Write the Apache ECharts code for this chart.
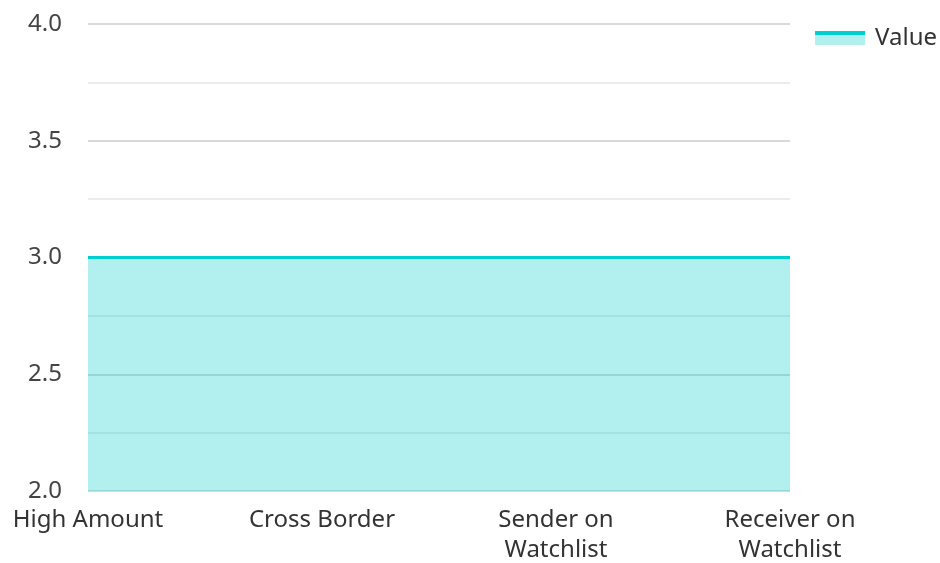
<!DOCTYPE html>
<html>
<head>
<meta charset="utf-8">
<style>
  html, body { margin: 0; padding: 0; background: #fff; }
  #chart { width: 940px; height: 563px; }
</style>
<script src="https://cdn.jsdelivr.net/npm/echarts@6/dist/echarts.min.js"></script>
</head>
<body>
<div id="chart"></div>
<script>
const categories = ['High Amount', 'Cross Border', 'Sender on\nWatchlist', 'Receiver on\nWatchlist'];
const values = [3, 3, 3, 3];
const seriesName = 'Value';
const yMin = 2.0, yMax = 4.0, yInterval = 0.5;

const lineColor = '#00cfcf';
const fillColor = '#00cccc';
const fontFamily = '"Noto Sans", "Open Sans", sans-serif';

const chart = echarts.init(document.getElementById('chart'), null, { renderer: 'canvas' });
chart.setOption({
  animation: false,
  grid: { left: 88, right: 150, top: 24, bottom: 72, containLabel: false, outerBoundsMode: 'none' },
  legend: {
    data: [seriesName],
    right: 3,
    top: 26,
    padding: 0,
    itemWidth: 50,
    itemHeight: 14,
    itemGap: 10,
    icon: 'rect',
    itemStyle: {
      color: new echarts.graphic.LinearGradient(0, 0, 0, 1, [
        { offset: 0, color: lineColor },
        { offset: 0.27, color: lineColor },
        { offset: 0.27, color: '#b2f0f0' },
        { offset: 1, color: '#b2f0f0' }
      ])
    },
    textStyle: { fontSize: 24, color: '#333', fontFamily: fontFamily, padding: [0, 0, 0, 5] }
  },
  xAxis: {
    type: 'category',
    data: categories,
    boundaryGap: false,
    axisLine: { show: false },
    axisTick: { show: false },
    axisLabel: {
      fontSize: 24, color: '#333', fontFamily: fontFamily,
      lineHeight: 30, margin: 14, interval: 0
    },
    splitLine: { show: false }
  },
  yAxis: {
    type: 'value',
    min: yMin, max: yMax, interval: yInterval,
    axisLine: { show: false },
    axisTick: { show: false },
    axisLabel: {
      fontSize: 24, color: '#444', fontFamily: fontFamily, margin: 26,
      formatter: v => v.toFixed(1)
    },
    splitLine: { show: true, lineStyle: { color: '#cccccc', width: 1.5 } },
    minorTick: { show: false, splitNumber: 2 },
    minorSplitLine: { show: true, lineStyle: { color: '#e6e6e6', width: 1.5 } }
  },
  series: [{
    name: seriesName,
    type: 'line',
    data: values,
    symbol: 'none',
    showSymbol: false,
    lineStyle: { color: lineColor, width: 3 },
    itemStyle: { color: lineColor },
    areaStyle: { color: fillColor, opacity: 0.3, origin: 'start' }
  }]
});
</script>
</body>
</html>
